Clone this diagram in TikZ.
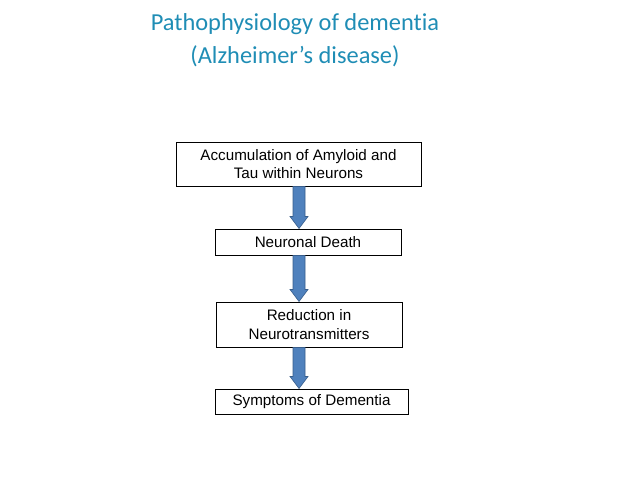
\documentclass[tikz,border=0pt]{standalone}
\usepackage{fontspec}
\setmainfont{Liberation Sans}
\newfontfamily\titlefont[Ligatures={NoCommon,NoRequired,NoContextual,NoDiscretionary}]{Carlito}
\usetikzlibrary{shapes.arrows}
\definecolor{titleblue}{HTML}{1F8DB5}
\definecolor{arrowfill}{HTML}{4F81BD}
\definecolor{arrowline}{HTML}{385D8A}
\begin{document}
\begin{tikzpicture}[x=1pt,y=-1pt,
  box/.style={draw,line width=0.8pt,align=center,font=\fontsize{15.2}{18.5}\selectfont},
  barrow/.style={fill=arrowfill,draw=arrowline,line width=0.6pt}]
\useasboundingbox (0,0) rectangle (638,479);
\node[font=\titlefont\fontsize{24.4}{33}\selectfont,text=titleblue,align=center] (title) at (295,40) {Pathophysiology of dementia\\(Alzheimer’s disease)};
\node[box,minimum width=245pt,minimum height=44pt] (b1) at (298.5,164) {Accumulation of Amyloid and\\Tau within Neurons};
\node[box,minimum width=186pt,minimum height=26pt] (b2) at (308,242) {Neuronal Death};
\node[box,minimum width=186pt,minimum height=45pt] (b3) at (309,324.5) {Reduction in\\Neurotransmitters};
\node[box,minimum width=193pt,minimum height=25pt] (b4) at (311.5,401.5) {Symptoms of Dementia};
\newcommand{\blockarrow}[2]{%
  \draw[barrow] (293,#1) -- (305,#1) -- (305,#2-12) -- (308,#2-12) -- (299,#2) -- (290,#2-12) -- (293,#2-12) -- cycle;}
\blockarrow{186.5}{228.5}
\blockarrow{255.5}{301.5}
\blockarrow{347.5}{388.5}
\end{tikzpicture}
\end{document}
